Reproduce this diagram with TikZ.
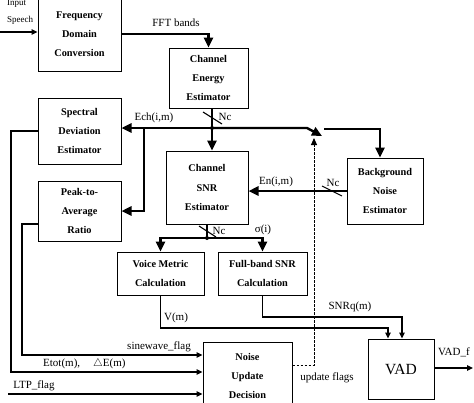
\documentclass[tikz,border=0pt]{standalone}
\usepackage{fontspec}
\setmainfont{Liberation Serif}
\usetikzlibrary{arrows.meta}
\begin{document}
\begin{tikzpicture}[x=1pt,y=-1pt,
  box/.style={draw, line width=1pt, align=center, inner sep=0pt,
    font=\fontsize{10.3}{19.2}\selectfont\bfseries},
  lab/.style={inner sep=0pt, font=\fontsize{11}{12}\selectfont},
  thk/.style={line width=2.4pt},
  thn/.style={line width=1.1pt},
  tarr/.style={-{Triangle[length=10pt,width=9pt]}},
  narr/.style={-{Triangle[length=6pt,width=5.5pt]}},
  slash/.style={line width=1.1pt},
]
\useasboundingbox (0,0) rectangle (474,402);
% boxes
\node[box, minimum width=83pt, minimum height=74pt] (fdc) at (79.5,34) {Frequency\\Domain\\Conversion};
\node[box, minimum width=79pt, minimum height=60pt] (cee) at (208.5,78) {Channel\\Energy\\Estimator};
\node[box, minimum width=83pt, minimum height=66pt] (sde) at (79.5,131) {Spectral\\Deviation\\Estimator};
\node[box, minimum width=83pt, minimum height=60pt] (par) at (79.5,211) {Peak-to-\\Average\\Ratio};
\node[box, minimum width=82pt, minimum height=73pt] (cse) at (207,187.5) {Channel\\SNR\\Estimator};
\node[box, minimum width=76pt, minimum height=66pt] (bne) at (385,191) {Background\\Noise\\Estimator};
\node[box, minimum width=87pt, minimum height=43pt] (vmc) at (160.5,273.5) {Voice Metric\\Calculation};
\node[box, minimum width=89pt, minimum height=43pt] (fsc) at (262.5,273.5) {Full-band SNR\\Calculation};
\node[box, minimum width=89pt, minimum height=68pt] (nud) at (247.5,376) {Noise\\Update\\Decision};
\node[box, minimum width=66pt, minimum height=60pt, font=\fontsize{15.5}{18}\selectfont] (vad) at (401,369) {VAD};
% coordinates
\coordinate (in) at (0,32);
\coordinate (j1) at (212,128);
\coordinate (j2) at (144,128);
\coordinate (bend) at (307,128);
\coordinate (sw) at (322,136);
\coordinate (sw2) at (324,129);
\coordinate (sw3) at (380,129);
\coordinate (j3) at (207,238);
\coordinate (v1) at (388,328);
\coordinate (s1) at (402,317);
\coordinate (dj) at (314,365);
\coordinate (dt) at (314,138);
\coordinate (l1) at (11,372);
\coordinate (p1) at (22,224);
\coordinate (l2) at (22,355);
\coordinate (ltp) at (8,394);
\coordinate (out) at (473,368);
% connectors
\draw[thn,narr] (in) -- (in -| fdc.west);
\draw[thk,tarr] (fdc.east) -| (cee.north);
\draw[thk] (cee.south -| j1) -- (j1);
\draw[thk,tarr] (j1) -- (cse.north -| j1);
\draw[thk,tarr] (j1) -- (sde.east |- j1);
\draw[thk,tarr] (j2) |- (par.east);
\draw[thk,tarr] (j1) -- (bend) -- (sw);
\draw[thk,tarr] (sw2) -- (sw3) -- (sw3 |- bne.north);
\draw[thk,tarr] (bne.west) -- (bne.west -| cse.east);
\draw[thk] (cse.south) -- (j3);
\draw[thk,tarr] (j3) -| (vmc.north);
\draw[thk,tarr] (j3) -| (fsc.north);
\fill (j1) circle (2pt);
\fill (j3) circle (2pt);
\draw[thn,narr] (vmc.south) |- (v1) -- (v1 |- vad.north);
\draw[thn,narr] (fsc.south) |- (s1) -- (s1 |- vad.north);
\draw[line width=0.9pt,dash pattern=on 2.5pt off 1.5pt,-{Triangle[length=7pt,width=6pt]}] (nud.east |- dj) -- (dj) -- (dt);
\draw[thn,narr] (sde.west) -| (l1) -- (l1 -| nud.west);
\draw[thn,narr] (par.west |- p1) -- (p1) -- (l2) -- (l2 -| nud.west);
\draw[thn,narr] (ltp) -- (ltp -| nud.west);
\draw[thn,narr] (vad.east |- out) -- (out);
% Nc slashes
\draw[slash] (203,112) -- (222,124);
\draw[slash] (199,226) -- (216,237);
\draw[slash] (322,186) -- (342,196);
% labels
\node[lab, font=\fontsize{9}{10}\selectfont, anchor=west] (tin) at (7,4) {Input};
\node[lab, font=\fontsize{9}{10}\selectfont, anchor=west] (tsp) at (7,20) {Speech};
\node[lab] (tfft) at (176,23) {FFT bands};
\node[lab] (tech) at (154,118) {Ech(i,m)};
\node[lab] (tnc1) at (225,117) {Nc};
\node[lab] (ten) at (276,182) {En(i,m)};
\node[lab] (tnc2) at (333,183) {Nc};
\node[lab] (tnc3) at (219,231) {Nc};
\node[lab] (tsig) at (263,230) {σ(i)};
\node[lab] (tvm) at (176,318) {V(m)};
\node[lab] (tsnr) at (350,307) {SNRq(m)};
\node[lab] (tupd) at (327,378) {update flags};
\node[lab, anchor=west] (tvadf) at (438,352) {VAD\_f};
\node[lab] (tsine) at (159,347) {sinewave\_flag};
\node[lab, anchor=west] (tetot) at (43,364) {Etot(m),\hspace{13pt}$\triangle$E(m)};
\node[lab] (tltp) at (34,386) {LTP\_flag};
\end{tikzpicture}
\end{document}
